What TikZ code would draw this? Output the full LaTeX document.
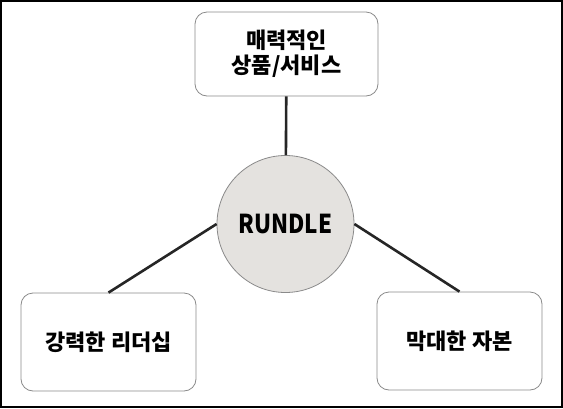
\documentclass[tikz,border=0pt]{standalone}
\usepackage{fontspec}
\setmainfont{Noto Sans CJK KR}[BoldFont=* Black]
\newfontfamily\corefont{Noto Sans CJK KR}[UprightFont=* Black,FakeStretch=0.86]
\definecolor{corefill}{HTML}{E4E2DF}
\definecolor{edgegray}{HTML}{8A8A8A}
\definecolor{linkgray}{HTML}{262626}

\begin{document}
\begin{tikzpicture}[x=1pt,y=-1pt,
  box/.style={draw=edgegray,line width=0.8pt,rounded corners=12pt,fill=white,align=center,
    font=\fontsize{22}{25}\selectfont\bfseries,inner sep=0pt},
  core/.style={draw=edgegray,line width=0.8pt,shape=circle,fill=corefill,minimum size=137pt,
    inner sep=0pt,font=\fontsize{26}{28}\corefont},
  link/.style={draw=linkgray,line width=2.6pt}]
  \useasboundingbox (0,0) rectangle (563,408);
  \draw[line width=1.5pt] (1,1) rectangle (562,407);
  \path (286.5,54) node[box,minimum width=183pt,minimum height=84pt] (goods) {매력적인\\상품/서비스}
  (285.5,224) node[core] (rundle) {RUNDLE}
  (108.5,342) node[box,minimum width=175pt,minimum height=98pt] (leader) {강력한 리더십}
  (459.5,341) node[box,minimum width=165pt,minimum height=98pt] (capital) {막대한 자본};
  \draw[link] (goods) -- (rundle);
  \draw[link] (leader.north) -- (rundle.west);
  \draw[link] (capital.north) -- (rundle.east);
\end{tikzpicture}
\end{document}
